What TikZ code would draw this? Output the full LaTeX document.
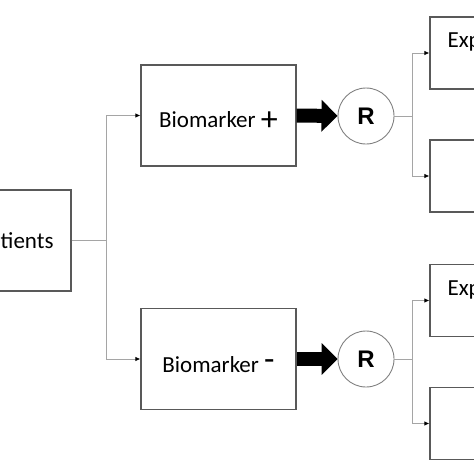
\documentclass[tikz,border=0pt]{standalone}
\usepackage{fontspec}
\setmainfont{Carlito}
\newfontfamily\rfont{Liberation Sans}
\usetikzlibrary{arrows.meta}
\definecolor{boxgray}{RGB}{89,89,89}
\definecolor{linegray}{RGB}{165,165,165}

\begin{document}
\begin{tikzpicture}[x=1pt,y=1pt,
    box/.style={draw=boxgray, line width=1.3pt, minimum width=155pt, minimum height=101pt, text depth=0pt, font=\fontsize{23}{27}\selectfont},
    rbox/.style={draw=boxgray, line width=1.3pt, minimum width=150pt, minimum height=72pt},
    rnode/.style={draw=gray, line width=0.9pt, circle, minimum size=56pt, inner sep=0pt, font=\rfont\bfseries\fontsize{24}{24}\selectfont},
    link/.style={draw=linegray, line width=0.8pt, -{Latex[length=5pt,width=4.5pt,color=black]}},
    fat/.style={line width=14pt, -{Triangle[width=31pt,length=16pt]}}]
    \clip (0,0) rectangle (474,-474);

    % left side
    \node[box, minimum width=110pt, text height=15pt] (patients) at (16,-240.5) {Patients};
    \node[box, text height=23pt] (bplus) at (218.5,-115.5)
      {Biomarker \raisebox{-3pt}{\fontsize{34}{34}\selectfont +}};
    \node[box, text height=26pt] (bminus) at (218.5,-359)
      {Biomarker \raisebox{2pt}{\fontsize{34}{34}\selectfont -}};

    \draw[link] (patients.east) -- ++(35,0) |- (bplus.west);
    \draw[link] (patients.east) -- ++(35,0) |- (bminus.west);

    % randomisation
    \node[rnode] (r1) at (366,-116) {R};
    \node[rnode] (r2) at (366,-359) {R};
    \draw[fat] (bplus.east) -- (r1.west);
    \draw[fat] (bminus.east) -- (r2.west);

    % right side
    \node[rbox] (e1) at (505,-53) {};
    \node[rbox] (c1) at (505,-176) {};
    \node[rbox] (e2) at (505,-300.5) {};
    \node[rbox] (c2) at (505,-423.5) {};
    \node[anchor=base west, font=\fontsize{23}{27}\selectfont] (e1text) at (444,-47) {Exp};
    \node[anchor=base west, font=\fontsize{23}{27}\selectfont] (e2text) at (444,-295) {Exp};

    \draw[link] (r1.east) -- ++(18,0) |- (e1.west);
    \draw[link] (r1.east) -- ++(18,0) |- (c1.west);
    \draw[link] (r2.east) -- ++(18,0) |- (e2.west);
    \draw[link] (r2.east) -- ++(18,0) |- (c2.west);
\end{tikzpicture}
\end{document}
